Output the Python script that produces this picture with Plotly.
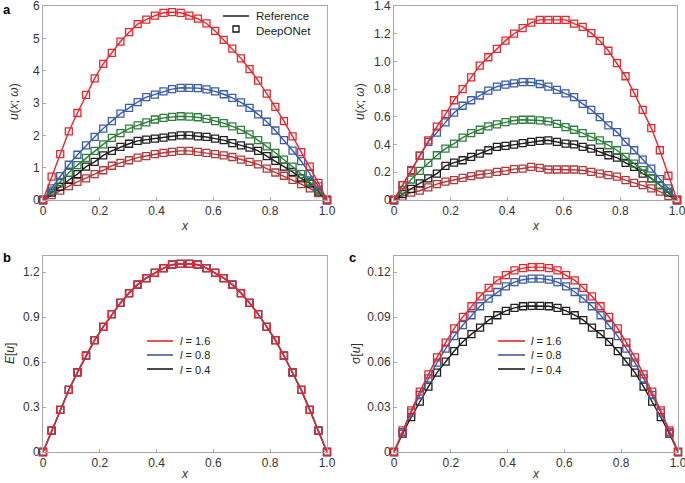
import numpy as np
import plotly.graph_objects as go

# sample locations (34 evenly spaced points on [0, 1])
x_pts = np.linspace(0, 1, 34)

# panel a, left: five sample solutions u(x; w)
left_red = [0, 0.72, 1.42, 2.12, 2.69, 3.25, 3.76, 4.21, 4.55, 4.90, 5.19, 5.44, 5.58, 5.70, 5.79, 5.81,
            5.79, 5.70, 5.61, 5.46, 5.23, 4.95, 4.68, 4.38, 4.05, 3.69, 3.29, 2.88, 2.44, 1.97, 1.48, 1.03, 0.53, 0]
left_blue = [0, 0.36, 0.74, 1.09, 1.40, 1.69, 1.95, 2.21, 2.44, 2.67, 2.85, 3.03, 3.18, 3.26, 3.36, 3.43,
             3.47, 3.47, 3.46, 3.42, 3.36, 3.27, 3.16, 3.02, 2.85, 2.65, 2.42, 2.15, 1.85, 1.53, 1.20, 0.82, 0.42, 0]
left_green = [0, 0.29, 0.56, 0.84, 1.08, 1.30, 1.52, 1.72, 1.92, 2.07, 2.21, 2.31, 2.40, 2.49, 2.54, 2.57,
              2.59, 2.58, 2.56, 2.51, 2.44, 2.38, 2.28, 2.17, 2.03, 1.85, 1.66, 1.46, 1.25, 1.03, 0.80, 0.56, 0.31, 0]
left_black = [0, 0.23, 0.41, 0.62, 0.80, 1.03, 1.18, 1.38, 1.52, 1.64, 1.74, 1.83, 1.87, 1.90, 1.93, 1.97,
              2.00, 2.00, 1.97, 1.95, 1.90, 1.85, 1.76, 1.69, 1.62, 1.52, 1.36, 1.21, 1.03, 0.87, 0.67, 0.51, 0.26, 0]
left_darkred = [0, 0.15, 0.29, 0.43, 0.56, 0.67, 0.80, 0.92, 1.06, 1.15, 1.23, 1.31, 1.36, 1.42, 1.46, 1.49,
                1.52, 1.52, 1.49, 1.46, 1.42, 1.38, 1.33, 1.25, 1.18, 1.10, 0.97, 0.85, 0.75, 0.62, 0.49, 0.36, 0.21, 0]

# panel a, right
right_red = [0, 0.108, 0.21, 0.32, 0.43, 0.53, 0.62, 0.72, 0.80, 0.885, 0.97, 1.03, 1.09, 1.15, 1.20, 1.24, 1.28, 1.30,
             1.30, 1.30, 1.30, 1.273, 1.249, 1.204, 1.149, 1.077, 0.988, 0.893, 0.773, 0.651, 0.519, 0.359, 0.175, 0]
right_blue = [0, 0.108, 0.215, 0.32, 0.42, 0.486, 0.56, 0.63, 0.68, 0.72, 0.754, 0.79, 0.818, 0.833, 0.842, 0.85, 0.85, 0.837,
              0.818, 0.794, 0.77, 0.742, 0.694, 0.651, 0.598, 0.538, 0.49, 0.419, 0.359, 0.292, 0.227, 0.151, 0.084, 0]
right_green = [0, 0.072, 0.148, 0.21, 0.268, 0.323, 0.371, 0.407, 0.45, 0.483, 0.507, 0.531, 0.546, 0.562, 0.574, 0.579, 0.579, 0.574,
               0.567, 0.55, 0.526, 0.507, 0.483, 0.455, 0.431, 0.395, 0.359, 0.311, 0.263, 0.215, 0.156, 0.108, 0.06, 0]
right_black = [0, 0.043, 0.081, 0.12, 0.156, 0.19, 0.246, 0.27, 0.287, 0.311, 0.335, 0.359, 0.383, 0.39, 0.40, 0.41, 0.419, 0.426,
               0.431, 0.419, 0.407, 0.402, 0.383, 0.371, 0.347, 0.323, 0.306, 0.268, 0.239, 0.191, 0.156, 0.108, 0.053, 0]
right_darkred = [0, 0.024, 0.053, 0.067, 0.091, 0.115, 0.132, 0.144, 0.16, 0.172, 0.184, 0.19, 0.203, 0.21, 0.223, 0.227, 0.239, 0.232,
                 0.22, 0.22, 0.22, 0.22, 0.215, 0.203, 0.19, 0.18, 0.168, 0.144, 0.124, 0.108, 0.084, 0.06, 0.029, 0]

# panel b: mean E[u] (the three length scales overlap)
mean_u = [0, 0.142, 0.281, 0.414, 0.531, 0.642, 0.746, 0.835, 0.919, 0.994, 1.06, 1.116, 1.16, 1.195, 1.226, 1.249, 1.255,
          1.255, 1.249, 1.226, 1.195, 1.16, 1.116, 1.06, 0.994, 0.919, 0.835, 0.746, 0.642, 0.531, 0.414, 0.281, 0.142, 0]

# panel c: standard deviation sigma[u]
std_l16 = [0, 0.0144, 0.0277, 0.0403, 0.0518, 0.0631, 0.073, 0.0824, 0.0901, 0.0972, 0.1038, 0.1094, 0.1145, 0.118, 0.1211, 0.1226, 0.1233,
           0.1233, 0.1226, 0.1211, 0.118, 0.1145, 0.1094, 0.1038, 0.0972, 0.0901, 0.0824, 0.073, 0.0631, 0.0518, 0.0403, 0.0277, 0.0144, 0]
std_l08 = [0, 0.0133, 0.0263, 0.038, 0.0491, 0.0596, 0.069, 0.0773, 0.0846, 0.0912, 0.0972, 0.1023, 0.1067, 0.1105, 0.1133, 0.1149, 0.1156,
           0.1156, 0.1149, 0.1133, 0.1105, 0.1067, 0.1023, 0.0972, 0.0912, 0.0846, 0.0773, 0.069, 0.0596, 0.0491, 0.038, 0.0263, 0.0133, 0]
std_l04 = [0, 0.0122, 0.0232, 0.0336, 0.0436, 0.0529, 0.0602, 0.0673, 0.0735, 0.0786, 0.083, 0.0879, 0.0912, 0.0941, 0.0961, 0.0972, 0.0974,
           0.0974, 0.0972, 0.0961, 0.0941, 0.0912, 0.0879, 0.083, 0.0786, 0.0735, 0.0673, 0.0602, 0.0529, 0.0436, 0.0336, 0.0232, 0.0122, 0]

length_labels = ["1.6", "0.8", "0.4"]

RED = "#e8262b"
BLUE = "#3b5ca8"
GREEN = "#2f7d3e"
BLACK = "#1e1e1e"
DARKRED = "#b3383c"

W, H = 685, 483
FONT = "Liberation Sans, Arial, sans-serif"


def px(v):
    return v / W


def py(v):
    return 1 - v / H


fig = go.Figure()


def add_curve(y, color, xa, ya):
    fig.add_trace(go.Scatter(
        x=x_pts, y=y, xaxis=xa, yaxis=ya, mode="lines+markers",
        line=dict(color=color, width=1.4),
        marker=dict(symbol="square-open", size=7, color=color,
                    line=dict(width=1.3, color=color)),
        showlegend=False, hoverinfo="skip", cliponaxis=False,
    ))


for y, c in [(left_darkred, DARKRED), (left_black, BLACK), (left_green, GREEN),
             (left_blue, BLUE), (left_red, RED)]:
    add_curve(y, c, "x", "y")
for y, c in [(right_darkred, DARKRED), (right_black, BLACK), (right_green, GREEN),
             (right_blue, BLUE), (right_red, RED)]:
    add_curve(y, c, "x2", "y2")
for c in [BLACK, BLUE, RED]:
    add_curve(mean_u, c, "x3", "y3")
for y, c in [(std_l04, BLACK), (std_l08, BLUE), (std_l16, RED)]:
    add_curve(y, c, "x4", "y4")

# panel boxes in pixels: (left, right, top, bottom)
boxes = {
    "": (43, 327, 6, 200),
    "2": (394, 677, 6, 200),
    "3": (43, 327, 256, 452),
    "4": (394, 678, 256, 452),
}
yticks = {
    "": ([0, 1, 2, 3, 4, 5, 6], ["0", "1", "2", "3", "4", "5", "6"], [0, 6]),
    "2": ([0, 0.2, 0.4, 0.6, 0.8, 1.0, 1.2, 1.4], ["0", "0.2", "0.4", "0.6", "0.8", "1.0", "1.2", "1.4"], [0, 1.4]),
    "3": ([0, 0.3, 0.6, 0.9, 1.2], ["0", "0.3", "0.6", "0.9", "1.2"], [0, 1.307]),
    "4": ([0, 0.03, 0.06, 0.09, 0.12], ["0", "0.03", "0.06", "0.09", "0.12"], [0, 0.1307]),
}
axis_common = dict(
    showline=True, linecolor="#a8a8a8", linewidth=1, mirror=True, automargin=False,
    ticks="inside", ticklen=3, tickcolor="#a8a8a8", showgrid=False, zeroline=False,
    ticklabeloverflow="allow",
    tickfont=dict(family=FONT, size=12, color="#333333"),
)
layout_axes = {}
for key, (l, r, t, b) in boxes.items():
    tv, tt, rng = yticks[key]
    layout_axes["xaxis" + key] = dict(
        domain=[px(l), px(r)], range=[0, 1], anchor="y" + key,
        tickvals=[0, 0.2, 0.4, 0.6, 0.8, 1.0], ticktext=["0", "0.2", "0.4", "0.6", "0.8", "1.0"],
        **axis_common)
    layout_axes["yaxis" + key] = dict(
        domain=[py(b), py(t)], range=rng, anchor="x" + key,
        tickvals=tv, ticktext=tt, **axis_common)

annotations = []


def text(x, y, s, size=12, angle=0, xanchor="center", yanchor="middle", color="#333333"):
    annotations.append(dict(
        x=px(x), y=py(y), xref="paper", yref="paper", text=s, showarrow=False,
        textangle=angle, xanchor=xanchor, yanchor=yanchor, align="left",
        font=dict(family=FONT, size=size, color=color)))


# panel letters
text(1, 0, "<b>a</b>", size=13, color="#000", xanchor="left", yanchor="top")
text(1, 257, "<b>b</b>", size=13, color="#000", xanchor="left")
text(352, 257, "<b>c</b>", size=13, color="#000")

# axis titles
for cx in (185, 536):
    text(cx, 226, "<i>x</i>")
for cx in (185, 536):
    text(cx, 483, "<i>x</i>", yanchor="bottom")
text(14, 102, "<i>u</i>(<i>x</i>; <i>ω</i>)", angle=-90)
text(360, 102, "<i>u</i>(<i>x</i>; <i>ω</i>)", angle=-90)
text(10, 354, "<i>E</i>[<i>u</i>]", angle=-90)
text(356, 354, "σ[<i>u</i>]", angle=-90)

shapes = []

# legend panel a
shapes.append(dict(type="line", xref="paper", yref="paper", x0=px(223), x1=px(249), y0=py(16), y1=py(16),
                   line=dict(color="#111", width=1.4)))
shapes.append(dict(type="rect", xref="paper", yref="paper", x0=px(233), x1=px(239), y0=py(26), y1=py(32),
                   line=dict(color="#111", width=1.3)))
text(254, 23, "Reference<br>DeepONet", size=11.5, xanchor="left", color="#222")

# legends panels b and c
for lx0, lx1, tx in [(147, 173, 178), (498, 525, 529)]:
    for (ly, col) in zip([341, 355, 369], [RED, BLUE, BLACK]):
        shapes.append(dict(type="line", xref="paper", yref="paper", x0=px(lx0), x1=px(lx1),
                           y0=py(ly), y1=py(ly), line=dict(color=col, width=1.6)))
    text(tx, 355, "<br>".join(f"<i>l</i> = {lab}" for lab in length_labels),
         size=11, xanchor="left", color="#222")

fig.update_layout(
    width=W, height=H, margin=dict(l=0, r=0, t=0, b=0),
    paper_bgcolor="white", plot_bgcolor="white",
    font=dict(family=FONT, size=12, color="#333333"),
    annotations=annotations, shapes=shapes, showlegend=False,
    **layout_axes,
)

# drop the browser's default body margin so the figure fills the window
fig.write_html("out.html", config={"displayModeBar": False},
               post_script="document.body.style.margin = '0px';")
